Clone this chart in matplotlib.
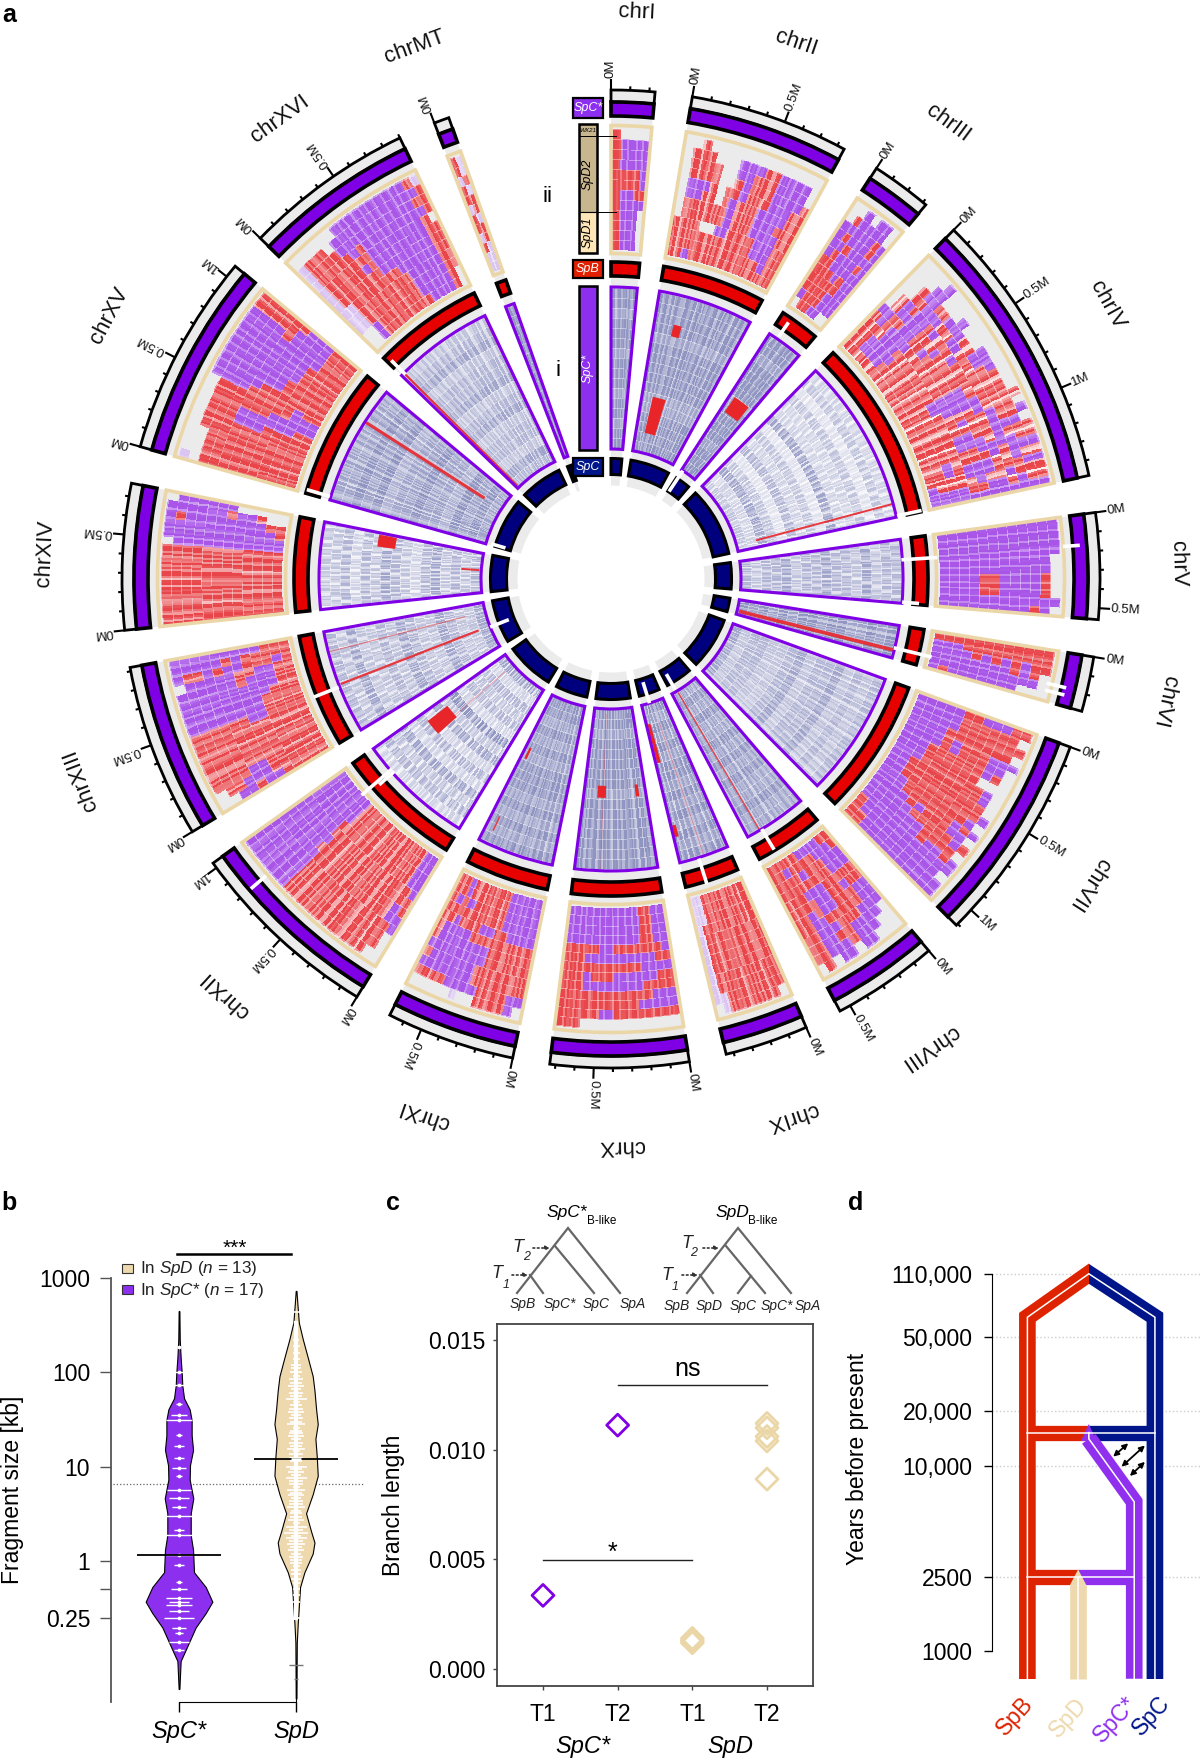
import numpy as np
import matplotlib
matplotlib.use('Agg')
import matplotlib.pyplot as plt
from matplotlib.patches import Rectangle

plt.rcParams['font.family'] = ['Liberation Sans', 'DejaVu Sans']
plt.rcParams['mathtext.fontset'] = 'custom'
plt.rcParams['mathtext.rm'] = 'Liberation Sans'
plt.rcParams['mathtext.it'] = 'Liberation Sans:italic'

W, H = 1200, 1760

# colours
PURPLE = '#8000e6'
PURPLE2 = '#8c2fee'
RED = '#e60000'
NAVY = '#00007e'
BEIGE = '#ebd6a8'
GREY = '#ebebeb'

# ---- panel a data ----
chrom_names = ['chrI', 'chrII', 'chrIII', 'chrIV', 'chrV', 'chrVI', 'chrVII', 'chrVIII', 'chrIX',
               'chrX', 'chrXI', 'chrXII', 'chrXIII', 'chrXIV', 'chrXV', 'chrXVI', 'chrMT']
chrom_mb = [0.23, 0.84, 0.32, 1.48, 0.56, 0.29, 1.11, 0.56, 0.44, 0.73, 0.68, 1.03, 0.92, 0.77, 1.07, 0.90, 0.08]
deg_per_mb = 22.5
gap_deg = 4.4

def flip(rows):
    return [row[::-1] for row in rows[::-1]]

mosaic_I = ['r....', 'rpppp', 'rpppp', 'rpppp', 'rrrrp', 'rrrrp', 'rpprr', 'rpppp', 'rppp.', 'rppp.', 'rppp.', 'rppp.']
mosaic_II = ['..r..............', '.rrr...ppprrpppp.', '.rrrr..pprrrpppp.', '.rrrr..rprrrppppr',
             '.pppr.rrprrrppprr', '.pprr.rprrrpppprr', '.rrrrrrprrrppprrr', '.rrrrrrprrrpppprr',
             'rrrr..pprrrrppprr', 'rrrrrrrrrrrrppprr', 'rrrrrrrrrrrrrrprr', 'rrprrrrrrrrrrrrrr']
mosaic_III = ['..p.pp.', '.rpppp.', 'ppppprp', 'prppprp', 'pprpppp', 'prppprp', 'rrppppp', 'rrrprpp',
              'rrrrrpp', 'rrrrppp', 'prrrppp', '.rrpp..']
mosaic_IV = ['....p.............r.p.rrprprrp', '...pp...p...ppprrrrrrprrprprrp', '..rpprrppprrpprrrrrrrprppprrpp',
             '..rrppprrpprrrrrrrrppppprrrprp', '.rprpprprrrprrrrrpprrrrpprrrpp', '.rpppprrrprrrrrppprrrrpprpprpp',
             'pprrpprrprrrrrrppprprpprrppprp', 'rprpppprrrrrrrrppprrrpprrpprrp', 'rrrppprrrrrrrrrpprrrrrrrrrrrpp',
             'rrppppprrrrrrrrrrrrrrrrrpprrpp', 'rrpppprrrrrrrrrrrrrrrrrrrrrrpp', 'rrrrrrrrrrrrrrrrrrrrrrrrrrrppp']
mosaic_V = ['pppp.....p.', 'pppppprrrpp', 'ppppppppppr', 'ppppppppppp', 'ppppppppppp', 'ppppppppppp',
            'pppppprrrpp', 'pppppprrrpp', 'ppppppppppp', 'ppppppppppp', 'ppppppppppp', 'ppppppppppp']
mosaic_VI = ['rrr...', 'rrrrp.', 'rrppp.', 'rrrrpp', 'rrpppp', 'rrrppp', 'rrpppp', 'rrrppp', 'rrpppp', 'rppppp',
             'rppppr', 'rppppp']
mosaic_VII = ['r.r.p......p.p.r.pp.pp', 'rrrrppr.pprrprpprrpppp', 'prrrppp.rrrrrpprrppppp', 'prrrrrrrrrrrrrrrrppppp',
              'prrrrrrrrrrrrrrrrrpppp', 'rrrrrrrrrrrrrrrrpppppp', 'rrrrpprrrrrrrrprpppppp', 'ppprrrrrrrrrrrrppppppp',
              'pppppprrrrrrrrpppppppp', 'ppppppppprrrpppppppppp', 'pppppppppppppppppppprr', 'pppppppppppppppppprrrr']
mosaic_VIII = ['...pp.pp.r.', '..ppprppprr', '.pppprrpprr', 'ppprrrppprr', 'pprrrrrpprr', 'pprrrpprprr',
               'rrprrpprrrr', 'rrrrrppprrr', 'ppprrrrrrrr', 'ppprrrprrrr', 'rppprrrrprr', 'rrpppprrrrr']
mosaic_IX = flip(['qqrrrrrrrr', 'qqrrrrrrrr', 'qqrrrrrrrr', 'qrrrrrrrrr', 'qrrrrrrrrr', 'qrrrrrrrrr', 'qrrrrrrrrr',
                  'qrrrrrrrrr', 'qrrrrrrrrr', 'qrrrrrrrrr', 'qqrrrrrrrr', '.qrrrrrrr.'])
mosaic_X = flip(['ppppppppppprrpp', 'ppppppppppprrpp', 'ppppppppppprrpp', 'ppppppppppprrpp', 'rrrrrpprrrrrrrp',
                 'rrrpppppppppprr', 'rrrrrrrrrrrpppp', 'rrrprrrpppppprr', 'rrrpppppppprrrr', 'rrrrrrrrrrrrppp',
                 'rrrrrrrrrrppppp', 'rrrrrpprrrrrrrr', 'rrr............'])
mosaic_XI = flip(['rrprrrrrrppppp', 'rrprrrrrrppppp', 'rprprrrrrppppp', 'rrrrrrrrrppppp', 'rrprrrpprrpppp',
                  'rpppprrrrrrrrr', 'rppppppprrrrrr', 'pppppppprrrrrr', 'rpppppprrrrrrr', 'ppppppprrrrrrr',
                  'rrrrpppprrrrpp', '.....q..rrrrp.'])
mosaic_XII = ['..rrrrrrrrrrrrppppppp', '.rrrrrrrrrrrrrppppppp', '.rrrrrrrrrrrrrppppppp', 'prrrrrrrrrrrrrppppppp',
              'pprrrrrrrrrrrrppppppp', 'rprrrrrrrrrrrrrpppppp', 'rrrrrrrrrrrrrrppppppp', 'prrrrrrrrrrrrrrpppppp',
              'pprrrrrrrrrrrrrpppppp', 'pprrrrrrrrrrrrppppppp', 'pprrrrrrrrrrrrppppppp', 'pprrrrrrrrrrrrppppppp']
mosaic_XIII = ['..rrrrrrrppppp.ppp', '.rrrrrrrrpppppprpp', 'prrrrrrrrpppppprpp', 'pprrrrrrrppppppppp',
               'rpprrrrrrpppppprpp', 'ppprrrrrrppppppprp', 'prrrrrrrppppprrppp', 'rrrrrrrrpppppprrrp',
               'rrrrrrrrrrrpppprrp', 'rrrrrrrrrrrrppprrr', 'rrrrrrrrrrrrrrrprr', 'rrrrrrrrrrrrrrrrrr']
mosaic_XIV = ['rrrrrrrrr.pppp.', 'rrrrrrrrrppprpp', 'rrrrrrrrrpppppp', 'rrrrrrrrrpppppp', 'rrrrrrrrrpppppp',
              'rrrrrrrrrpppppp', 'rrrrrrrrrpppprp', 'rrrrrrrrrppppp.', 'rrrrrrrrrppppp.', 'rrrrrrrrrppppr.',
              'rrrrrrrrrpppr..', 'rrrrrrrrrpprr..']
mosaic_XV = ['q.........ppppppppprr', '....rrrrrrppppppppprr', 'rrrrrrrrrrppppppppprr', 'rrrrrrrrrrppppppppprr',
             'rrrrrrpprrrppppppprrr', 'rrrrrrpprrrrppppppppr', 'rrrrrrpprrrrppppppppp', 'rrrrrrrpprrrrrppppppp',
             'rrrrrrrpprrrrrrrrpppp', 'rrrrrrrpppprrrrrrrrrr', 'rrrrrrrrpprrrrrrrrrrr', 'rrrrrrrrpprrrrrrrrrrr']
mosaic_XVI = ['......pppppppppprq', 'qrrr.ppppppppppppr', 'qrrrrppppppppppprr', 'qrrrrrprpppppppppr',
              'qrrrrrrrppppppppr.', 'qrrrrrprpppppppprr', 'qrrrrrrrpppppppprr', 'qqrrrrrrrrpppppprr',
              'qqrrrrrrrrrppppprr', 'qqrrrrrrrrrppppprr', '..prrrrrrrrpppppr.', '..prrrrrrrrrppppr.']
mosaic_MT = ['rq', 'rq', 'qr', 'rq', 'rr', 'qr', 'rq', 'rr', 'qr', 'rq', 'qq', 'qq']
mosaics = [mosaic_I, mosaic_II, mosaic_III, mosaic_IV, mosaic_V, mosaic_VI, mosaic_VII, mosaic_VIII, mosaic_IX,
           mosaic_X, mosaic_XI, mosaic_XII, mosaic_XIII, mosaic_XIV, mosaic_XV, mosaic_XVI, mosaic_MT]
mosaic_stripe = [0.15, 0.6, 0.15, 1.0, 0.2, 0.2, 0.3, 0.4, 0.5, 0.2, 0.55, 0.7, 0.65, 0.6, 0.4, 0.5, 0.4]

# panel i, darkness of each strain row (outer first) and how washed out the chromosome is
panel_i_rows = ['7767776777677677', '7777677777667777', '7767777677776777', '3424336243524634',
                '5546455655465545', '7676677677676767', '5454655465445546', '6676676767667676',
                '7676767677676767', '7777777677777677', '7676767776767677', '3546353647354536',
                '5464454654465446', '4453546543564545', '6676756676657676', '4564556456455465', '7777777777777777']
panel_i_contrast = [0.25, 0.45, 0.3, 1.0, 0.8, 0.5, 0.7, 0.6, 0.55, 0.4, 0.45, 1.0, 0.85, 0.95, 0.6, 0.7, 0.2]
grain = [1, 1, .85, .3, .2, .9, 1, 1, .7, .55, 1, 1, .95, .15, .8, 1, .6, .6, 1, .9, 1, .35, .25, .7, 1, 1, .8, 1,
         .45, 1, .95, .2, .5, 1, 1, .75, .9, .4, 1, 1, .65, .3, 1, .85, 1, 1, .55, .15, .9, 1, .7, 1, .4]

# red introgression blocks in panel i
block_chr = [1, 1, 2, 9, 9, 8, 8, 10, 11, 13]
block_mb0 = [.19, .15, .06, .47, .08, .37, .39, .60, .75, .62]
block_mb1 = [.27, .33, .26, .57, .12, .42, .43, .63, .93, .75]
block_r0 = [250, 150, 202, 207, 207, 150, 254, 187, 207, 218]
block_r1 = [262, 187, 220, 219, 219, 190, 266, 199, 232, 236]

# thin red lines in panel i
line_chr = [14, 12, 12, 15, 15, 3, 5, 7, 8, 9, 11, 13, 10]
line_mb = [.75, .44, .74, .03, .89, 1.36, .22, .44, .22, .50, .78, .44, .60]
line_r0 = [150, 142, 150, 132, 135, 150, 132, 132, 150, 135, 140, 132, 262]
line_r1 = [291, 290, 291, 292, 292, 291, 291, 292, 290, 290, 230, 150, 278]
line_w = [2.2, 1.6, 0.8, 1.6, 0.8, 1.4, 2.6, 1.0, 0.6, 0.6, 0.6, 1.4, 1.2]
line_a = [.9, .9, .5, .9, .7, .9, .9, .8, .4, .3, .4, .9, .8]

# short white gaps across the bands
gap_chr = [4, 4, 4, 5, 5, 5, 2, 2, 3, 8, 8, 7, 7, 11, 11, 11, 12, 12, 14, 14, 15]
gap_mb = [.165, .18, .55, .19, .23, .20, .08, .03, 1.47, .27, .28, .42, .46, .79, .76, .80, .42, .42, .03, .03, .03]
gap_r0 = [453, 291, 292, 448, 448, 291, 295, 105, 293, 293, 108, 292, 110, 290, 290, 455, 293, 110, 293, 110, 290]
gap_r1 = [470, 327, 309, 468, 468, 330, 312, 130, 318, 320, 130, 316, 128, 330, 310, 475, 320, 130, 317, 125, 310]

# ---- panel b data ----
spc_kb = [444, 225, 143, 100, 73, 53, 40.5, 31, 21.5, 15, 10.4, 7.3, 4.6, 3.2, 1.88, 1.31, .76, .53, .37, .28, .197, .125, .087, .044]
spc_w = [.003, .006, .014, .023, .028, .043, .091, .108, .108, .12, .094, .091, .122, .1, .1, .12, .128, .228, .285, .228, .142, .071, .014, .003]
spd_kb = [729, 338, 225, 143, 91, 64, 40.5, 28.3, 19.7, 12.6, 8, 5.1, 3.2, 2.06, 1.57, 1.2, .76, .53, .216, .137, .035]
spd_w = [.003, .023, .057, .1, .142, .157, .171, .185, .165, .177, .185, .142, .085, .128, .157, .142, .071, .034, .014, .006, .003]
spc_frag = [185, 102, 74, 46, 35, 31, 21.5, 16.7, 12.5, 9.7, 8, 5.6, 4.6, 3.7, 3, 2.15, 1.88, 1.15, .91, .6, .51, .41, .37, .34, .295, .247, .197, .172, .137, .115]
spc_frag_w = [.014, .043, .057, .028, .071, .108, .028, .043, .043, .057, .028, .1, .085, .057, .108, .043, .108, .114, .043, .028, .071, .114, .085, .114, .085, .128, .057, .034, .085, .043]
spd_frag = [440, 300, 220, 160, 120, 100, 85, 72, 60, 52, 45, 38, 33, 28, 24, 21, 18, 15.5, 13.5, 11.5, 10, 8.8, 7.6, 6.6, 5.7, 5, 4.3, 3.7, 3.2, 2.7, 2.3, 2, 1.75, 1.5, 1.3, 1.1, .95, .8, .65, .5, .37, .25]
spd_frag_w = [.03, .02, .025, .03, .04, .05, .06, .07, .06, .09, .05, .07, .06, .08, .05, .07, .06, .08, .06, .05, .09, .07, .09, .06, .08, .07, .06, .08, .05, .07, .09, .1, .09, .08, .07, .06, .05, .04, .04, .03, .03, .03]
spd_frag2 = [250, 190, 140, 110, 92, 78, 66, 56, 48, 41, 35, 30, 26, 22.5, 19.5, 16.5, 14.5, 12.5, 9.4, 8.2, 7.1, 6.1, 5.3, 4.6, 4, 3.4, 2.95, 2.5, 2.15, 1.85, 1.62, 1.4, 1.2, 1.02, .88, .72, .58, .44, .31]
spd_frag2_w = [.02, .03, .03, .04, .03, .05, .04, .05, .03, .06, .04, .05, .03, .06, .04, .05, .03, .06, .05, .04, .06, .03, .05, .04, .06, .04, .05, .03, .06, .04, .06, .05, .04, .05, .03, .04, .03, .03, .02]
median_kb = [1.15, 12.2]
threshold_kb = 6.5
b_ticks = [1000, 100, 10, 1, 0.5, 0.25]
b_labels = ['1000', '100', '10', '1', '', '0.25']

# ---- panel c data ----
c_x = [1, 2, 3, 3, 3, 4, 4, 4, 4, 4]
c_y = [.00336, .01112, .0012, .0013, .0014, .0112, .0110, .0106, .0104, .00866]
c_col = [PURPLE, PURPLE, BEIGE, BEIGE, BEIGE, BEIGE, BEIGE, BEIGE, BEIGE, BEIGE]
c_ticks = [0, .005, .010, .015]

# ---- panel d data ----
years_ticks = [110000, 50000, 20000, 10000, 2500, 1000]
years_labels = ['110,000', '50,000', '20,000', '10,000', '2500', '1000']
t_apex, t_shoulder, t_cross, t_bend, t_mix, t_end = 110000, 64000, 15200, 6410, 2500, 707
x_spb, x_spd, x_spcs, x_spc, x_mid, x_fork = 593, 745, 913, 975, 777, 777

fig = plt.figure(figsize=(W / 100, H / 100), dpi=100)

# ---- panel a: circular plot, radius in image pixels ----
CX, CY, RMAX = 611, 579, 620
ax = fig.add_axes([(CX - RMAX) / W, 1 - (CY + RMAX) / H, 2 * RMAX / W, 2 * RMAX / H], projection='polar')
ax.set_theta_zero_location('N')
ax.set_theta_direction(-1)
ax.set_xlim(0, 2 * np.pi)
ax.set_ylim(0, RMAX)
ax.autoscale(False)
ax.set_axis_off()

WHITE = np.array([1.0, 1.0, 1.0])
BG = np.array(matplotlib.colors.to_rgb(GREY))
SLATE = np.array([112, 118, 175]) / 255
mosaic_col = {'.': BG,
              'p': np.array([168, 85, 232]) / 255,
              'r': np.array([232, 70, 74]) / 255,
              'q': np.array([218, 196, 242]) / 255}


def band(t0, t1, r0, r1, face, edge='none', lw=0, z=1):
    ax.bar(np.radians((t0 + t1) / 2), r1 - r0, width=np.radians(t1 - t0), bottom=r0,
           facecolor=face, edgecolor=edge, linewidth=lw, zorder=z)


def paint(t0, t1, r0, r1, rgb, painted, col_marks, gap=0.8):
    # rgb has the outer row first, thin lighter rings separate the rows
    n_rows, n_cols = rgb.shape[:2]
    rgb = rgb.copy()
    for m in col_marks:
        rgb[painted[:, m], m] += (WHITE - rgb[painted[:, m], m]) * 0.3
    h = (r1 - r0) / n_rows
    edges = [r0]
    cells = []
    for i in range(n_rows):
        row = rgb[n_rows - 1 - i]
        mask = painted[n_rows - 1 - i]
        light = row.copy()
        light[mask] += (WHITE - light[mask]) * 0.4
        cells += [row, light]
        edges += [r0 + (i + 1) * h - gap, r0 + (i + 1) * h]
    thetas = np.radians(np.linspace(t0, t1, n_cols + 1))
    ax.pcolormesh(thetas, np.array(edges), np.array(cells), shading='flat', zorder=2)


start = 0.0
for i, name in enumerate(chrom_names):
    mb = chrom_mb[i]
    t0 = start
    t1 = start + mb * deg_per_mb
    start = t1 + gap_deg
    mid = (t0 + t1) / 2

    band(t0, t1, 93.5, 463, GREY, z=1)
    band(t0, t1, 477, 489, GREY, 'black', 2.0, 3)
    band(t0, t1, 463, 477, PURPLE, 'black', 2.6, 3)
    band(t0, t1, 325.5, 453.5, 'none', BEIGE, 2.6, 4)
    band(t0, t1, 303, 317, RED, 'black', 2.6, 3)
    band(t0, t1, 130, 292, 'none', PURPLE, 2.2, 4)
    band(t0, t1, 104.5, 120.5, NAVY, 'black', 2.2, 3)

    # panel i
    fine = max(int((t1 - t0) / 0.3), 3)
    shift = 3 if panel_i_contrast[i] >= 0.8 else 0
    rows_i = np.array([int(c) / 9 for c in panel_i_rows[i]])
    dark = np.zeros((len(rows_i), fine))
    for k in range(len(rows_i)):
        for j in range(fine):
            g = grain[(j + 5 * i + shift * k) % len(grain)]
            dark[k, j] = rows_i[k] * (1 - panel_i_contrast[i] * (1 - g))
    rgb = WHITE + (SLATE - WHITE) * dark[..., None]
    marks = np.unique((np.arange(0, mb, 0.05) / mb * fine).astype(int))[1:]
    paint(t0, t1, 131, 291, rgb, np.ones(rgb.shape[:2], bool), marks)

    # panel ii
    rows_ii = mosaics[i]
    n_cols = max(len(r) for r in rows_ii)
    idx = (np.arange(fine) * n_cols / fine).astype(int)
    rgb = np.zeros((len(rows_ii), fine, 3))
    painted = np.zeros((len(rows_ii), fine), bool)
    for k, row in enumerate(rows_ii):
        row = row.ljust(n_cols, '.')
        for j in range(fine):
            c = row[idx[j]]
            base = mosaic_col[c]
            s = mosaic_stripe[i] * (1 - grain[(j + 5 * i + 11 * (k // 4)) % len(grain)])
            if c == 'p':
                s = s * 0.3
            if c == '.':
                s = 0
            rgb[k, j] = base + (WHITE - base) * s
            painted[k, j] = c != '.'
    marks = np.where(np.diff(idx) > 0)[0] + 1
    margin = min(0.2, (t1 - t0) * 0.05)
    paint(t0 + margin, t1 - margin, 329, 450, rgb, painted, marks)

    # axis ticks and labels
    for tick in np.arange(0, mb + 1e-6, 0.1):
        th = np.radians(t0 + tick * deg_per_mb)
        major = abs(tick / 0.5 - round(tick / 0.5)) < 1e-6
        ax.plot([th, th], [489, 500 if major else 493], color='black', lw=1.5, solid_capstyle='butt', zorder=3)
        if major:
            ang = t0 + tick * deg_per_mb
            lab = '%gM' % round(tick, 1)
            ax.text(th, 501, lab, rotation=(90 - ang) % 360, rotation_mode='anchor', ha='left', va='center',
                    fontsize=9.5, color='#111111')
    ax.text(np.radians(mid), 567, name, rotation=(-mid) % 360, rotation_mode='anchor', ha='center', va='center',
            fontsize=16, color='#111111')

chrom_t0 = np.cumsum([0] + [m * deg_per_mb + gap_deg for m in chrom_mb[:-1]])

for c, m0, m1, r0, r1 in zip(block_chr, block_mb0, block_mb1, block_r0, block_r1):
    band(chrom_t0[c] + m0 * deg_per_mb, chrom_t0[c] + m1 * deg_per_mb, r0, r1, '#e8262a', z=3)
for c, m, r0, r1, w, a in zip(line_chr, line_mb, line_r0, line_r1, line_w, line_a):
    th = np.radians(chrom_t0[c] + m * deg_per_mb)
    ax.plot([th, th], [r0, r1], color='#e8262a', lw=w, alpha=a, solid_capstyle='butt', zorder=3)
for c, m, r0, r1 in zip(gap_chr, gap_mb, gap_r0, gap_r1):
    th = np.radians(chrom_t0[c] + m * deg_per_mb)
    ax.plot([th, th], [r0, r1], color='white', lw=2.6, solid_capstyle='butt', zorder=6)

# ---- panel b ----
axb = fig.add_axes([111 / W, 1 - 1702 / H, (364 - 111) / W, (1702 - 1278) / H])
axb.set_yscale('log')
axb.set_xlim(0.419, 2.58)
axb.set_ylim(0.032, 1000)
axb.patch.set_visible(False)
axb.axhline(threshold_kb, color='#666666', lw=0.9, ls=':', zorder=0, xmin=0.008)
axb.plot([1, 1], [.044, 444], color='black', lw=0.8, zorder=1)
axb.plot([2, 2], [.032, 729], color='black', lw=0.8, zorder=1)
axb.fill_betweenx(spc_kb, 1 - np.array(spc_w), 1 + np.array(spc_w), facecolor=PURPLE2, edgecolor='black', lw=0.8, zorder=2)
axb.fill_betweenx(spd_kb, 2 - np.array(spd_w), 2 + np.array(spd_w), facecolor='#eed9ae', edgecolor='black', lw=0.8, zorder=2)
axb.hlines(spc_frag, 1 - np.array(spc_frag_w), 1 + np.array(spc_frag_w), color='white', lw=1.0, zorder=3)
axb.scatter([1] * len(spc_frag), spc_frag, s=7, color='white', lw=0, zorder=3)
axb.hlines(spd_frag, 2 - np.array(spd_frag_w), 2 + np.array(spd_frag_w), color='white', lw=1.2, zorder=3)
axb.hlines(spd_frag2, 2 - np.array(spd_frag2_w), 2 + np.array(spd_frag2_w), color='white', lw=1.2, zorder=3)
axb.plot([2, 2], [.25, 330], color='white', lw=3, zorder=3)
axb.hlines([.078, .056], [1.94, 1.98], [2.06, 2.02], color='#777777', lw=1.0, zorder=3)
axb.hlines(median_kb, [0.644, 1.644], [1.356, 2.356], color='black', lw=1.3, zorder=4)
axb.hlines(median_kb[1], 1.96, 2.04, color='white', lw=1.8, zorder=5)
axb.set_yticks(b_ticks)
axb.set_yticklabels(b_labels, fontsize=16.5)
axb.minorticks_off()
axb.tick_params(axis='y', length=8, width=1, color='#555555', pad=7)
axb.set_xticks([1, 2])
axb.set_xticklabels(['SpC*', 'SpD'], fontsize=17, style='italic')
axb.tick_params(axis='x', length=7, width=1, pad=6)
for s in ['top', 'right']:
    axb.spines[s].set_visible(False)
axb.spines['left'].set_color('#555555')
axb.spines['left'].set_linewidth(1.3)
axb.spines['bottom'].set_bounds(1, 2)
axb.set_ylabel('Fragment size [kb]', fontsize=16.5)
axb.yaxis.set_label_coords(-0.345, 0.5)

# ---- panel c ----
axc = fig.add_axes([497 / W, 1 - 1686 / H, (813 - 497) / W, (1686 - 1324) / H])
axc.set_xlim(0.384, 4.616)
axc.set_ylim(-0.00077, 0.01573)
axc.scatter(c_x, c_y, marker='D', s=125, facecolor='none', edgecolor=c_col, lw=2.0, zorder=3)
axc.plot([2, 4], [.01296, .01296], color='#222222', lw=1)
axc.plot([1, 3], [.00496, .00496], color='#222222', lw=1)
axc.text(2.93, .0137, 'ns', fontsize=18, ha='center', va='center')
axc.text(1.93, .0053, '*', fontsize=18, ha='center', va='center')
axc.set_yticks(c_ticks)
axc.set_yticklabels(['0.000', '0.005', '0.010', '0.015'], fontsize=16.5)
axc.set_xticks([1, 2, 3, 4])
axc.set_xticklabels(['T1', 'T2', 'T1', 'T2'], fontsize=16.5)
axc.tick_params(axis='both', length=3, width=1, color='#444444')
axc.tick_params(axis='x', pad=9)
axc.tick_params(axis='y', pad=5)
for s in axc.spines.values():
    s.set_color('#444444')
    s.set_linewidth(1.3)
axc.set_ylabel('Branch length', fontsize=16.5)
axc.yaxis.set_label_coords(-0.29, 0.5)

# ---- panel d ----
axd = fig.add_axes([992 / W, 1 - 1680 / H, (1200 - 992) / W, (1680 - 1255) / H])
axd.set_yscale('log')
axd.set_xlim(487, 1110)
axd.set_ylim(696, 139000)
axd.patch.set_visible(False)
DRED, DNAVY, DPURPLE, DBEIGE = '#de2300', '#00158a', '#9030ee', '#eed9ae'
for y in years_ticks[:-1]:
    axd.plot([487, 1110], [y, y], color='#cccccc', lw=1, ls=':', zorder=0)

lw_band = 12.0
clip_left = Rectangle((487, t_end), x_mid - 487, 139000, transform=axd.transData)
clip_right = Rectangle((x_mid, t_end), 1110 - x_mid, 139000, transform=axd.transData)
l1, = axd.plot([x_spb, x_spb, x_mid], [t_end, t_shoulder, t_apex], color=DRED, lw=lw_band,
               solid_joinstyle='miter', solid_capstyle='projecting', zorder=2)
l1.set_clip_path(clip_left)
l2, = axd.plot([x_spc, x_spc, x_mid], [t_end, t_shoulder, t_apex], color=DNAVY, lw=lw_band,
               solid_joinstyle='miter', solid_capstyle='projecting', zorder=2)
l2.set_clip_path(clip_right)
axd.plot([x_spb, x_mid], [t_cross, t_cross], color=DRED, lw=11, solid_capstyle='butt', zorder=2)
axd.plot([x_mid, x_spc], [t_cross, t_cross], color=DNAVY, lw=11, solid_capstyle='butt', zorder=2)
axd.plot([x_spb, x_spd], [t_mix, t_mix], color=DRED, lw=11, solid_capstyle='butt', zorder=2)
axd.plot([x_spd, x_spcs], [t_mix, t_mix], color=DPURPLE, lw=11, solid_capstyle='butt', zorder=2)
axd.plot([x_mid, x_spcs, x_spcs], [14060, t_bend, t_end], color=DPURPLE, lw=lw_band,
         solid_joinstyle='miter', solid_capstyle='butt', zorder=3)
axd.fill([x_fork, x_fork - 24, x_fork + 23], [16900, 13680, 13680], color=DPURPLE, lw=0, zorder=3)
axd.plot([x_spd, x_spd], [t_end, 2265], color=DBEIGE, lw=lw_band, solid_capstyle='butt', zorder=3)
axd.fill([x_spd, x_spd - 25, x_spd + 25], [2760, 2265, 2265], color=DBEIGE, lw=0, zorder=3)
white = dict(color='white', lw=1.1, zorder=5, solid_joinstyle='miter')
axd.plot([x_spb, x_spb, x_mid, x_spc, x_spc], [t_end, t_shoulder, t_apex, t_shoulder, t_end], **white)
axd.plot([x_spb, x_spc], [t_cross, t_cross], **white)
axd.plot([x_spb, x_spcs], [t_mix, t_mix], **white)
axd.plot([x_mid, x_mid, x_spcs, x_spcs], [t_cross, 14060, t_bend, t_end], **white)
axd.plot([x_spd, x_spd], [t_mix, t_end], **white)
arrow_x0 = [850, 875, 900]
arrow_x1 = [895, 945, 945]
arrow_y0 = [11260, 9940, 8850]
arrow_y1 = [13300, 12940, 10550]
for a, b, c, d in zip(arrow_x0, arrow_x1, arrow_y0, arrow_y1):
    axd.annotate('', xy=(b, d), xytext=(a, c), zorder=6,
                 arrowprops=dict(arrowstyle='<|-|>', color='black', lw=1.3, mutation_scale=8, shrinkA=0, shrinkB=0))
axd.set_yticks(years_ticks)
axd.set_yticklabels(years_labels, fontsize=16.5)
axd.minorticks_off()
axd.tick_params(axis='y', length=6, width=1, pad=8)
axd.set_xticks([])
for s in ['top', 'right', 'bottom']:
    axd.spines[s].set_visible(False)
axd.spines['left'].set_bounds(1000, 110000)
axd.set_ylabel('Years before present', fontsize=16.5)
axd.yaxis.set_label_coords(-0.59, 0.52)

# ---- annotation layer in image pixels ----
ov = fig.add_axes([0, 0, 1, 1])
ov.set_xlim(0, W)
ov.set_ylim(H, 0)
ov.set_axis_off()
ov.patch.set_visible(False)

for letter, x, y in [('a', 9, 15), ('b', 9, 1203), ('c', 393, 1203), ('d', 856, 1203)]:
    ov.text(x, y, letter, fontsize=18, fontweight='bold', ha='center', va='center')

# key next to chrI
for label, y0, y1, col in [('SpC*', 98, 118, PURPLE2), ('SpB', 260, 278, '#e02000'), ('SpC', 458, 476, '#00158a')]:
    ov.add_patch(Rectangle((573, y0), 30, y1 - y0, facecolor=col, edgecolor='black', lw=1.6))
    ov.text(588, (y0 + y1) / 2, label, color='white', fontsize=9, style='italic', ha='center', va='center')
ov.add_patch(Rectangle((579, 286), 18, 164, facecolor=PURPLE2, edgecolor='black', lw=1.8))
ov.text(588, 368, 'SpC*', color='white', fontsize=9, style='italic', rotation=90, ha='center', va='center')
ov.add_patch(Rectangle((579, 124), 18, 88, facecolor='#c8b68f', edgecolor='black', lw=0.8))
ov.add_patch(Rectangle((579, 212), 18, 41, facecolor='#ffe6b8', edgecolor='black', lw=0.8))
ov.add_patch(Rectangle((579, 124), 18, 129, facecolor='none', edgecolor='black', lw=1.8))
ov.plot([579, 616], [136, 136], color='black', lw=0.7)
ov.plot([579, 616], [212, 212], color='black', lw=0.7)
ov.text(588, 130, 'WX21', fontsize=4.5, style='italic', ha='center', va='center')
ov.text(588, 174, 'SpD2', fontsize=9, style='italic', rotation=90, ha='center', va='center')
ov.text(588, 232, 'SpD1', fontsize=9, style='italic', rotation=90, ha='center', va='center')
ov.text(547, 197, 'ii', fontsize=16, ha='center', va='center')
ov.text(558, 371, 'i', fontsize=16, ha='center', va='center')

# panel b legend and significance bar
for y, col, txt in [(1269, '#eed9ae', r'In $\mathit{SpD}$ ($\mathit{n}$ = 13)'),
                    (1290, PURPLE2, r'In $\mathit{SpC}$* ($\mathit{n}$ = 17)')]:
    ov.add_patch(Rectangle((122, y - 4.5), 11, 9, facecolor=col, edgecolor='#333333', lw=0.8))
    ov.text(140, y, txt, fontsize=12.3, ha='left', va='center', color='#222222')
ov.plot([177, 291], [1254, 1254], color='black', lw=1.8)
ov.text(235, 1248, '***', fontsize=15, ha='center', va='center')

# panel c group labels and trees
ov.text(583, 1747, 'SpC*', fontsize=17, style='italic', ha='center', va='center')
ov.text(730, 1747, 'SpD', fontsize=17, style='italic', ha='center', va='center')
tree_col = '#666666'
tree_lines = [
    ([517, 568, 620], [1293, 1228, 1293]), ([555, 594], [1246, 1293]), ([530, 543], [1275, 1293]),
    ([687, 738, 791], [1293, 1228, 1293]), ([726, 765], [1246, 1293]), ([700, 713], [1275, 1293]),
    ([751, 738], [1276, 1293])]
for xs, ys in tree_lines:
    ov.plot(xs, ys, color=tree_col, lw=1.6, solid_joinstyle='miter')
for label, x, y in [('SpB', 523, 1304), ('SpC*', 560, 1304), ('SpC', 596, 1304), ('SpA', 633, 1304),
                    ('SpB', 677, 1306), ('SpD', 709, 1306), ('SpC', 743, 1306), ('SpC*', 777, 1306), ('SpA', 808, 1306)]:
    ov.text(x, y, label, fontsize=10, style='italic', ha='center', va='center', color='#222222')
ov.text(567, 1213, 'SpC*', fontsize=12.5, style='italic', ha='center', va='center')
ov.text(587, 1221, 'B-like', fontsize=8.5, ha='left', va='center')
ov.text(732, 1213, 'SpD', fontsize=12.5, style='italic', ha='center', va='center')
ov.text(748, 1221, 'B-like', fontsize=8.5, ha='left', va='center')
for label, x, y, size in [('T', 518, 1247, 13), ('2', 527, 1257, 9), ('T', 497, 1274, 13), ('1', 506, 1285, 9),
                          ('T', 687, 1244, 13), ('2', 694, 1253, 9), ('T', 667, 1276, 13), ('1', 675, 1287, 9)]:
    ov.text(x, y, label, fontsize=size, style='italic', ha='center', va='center', color='#222222')
for x0, x1, y in [(533, 550, 1248), (512, 528, 1275), (703, 719, 1248), (682, 698, 1275)]:
    ov.annotate('', xy=(x1, y), xytext=(x0, y),
                arrowprops=dict(arrowstyle='-|>', ls=':', color='#333333', lw=1.2, mutation_scale=6, shrinkA=0, shrinkB=0))

# panel d lineage labels
for label, x, y, col in [('SpB', 1015, 1716, DRED), ('SpD', 1068, 1718, DBEIGE),
                         ('SpC*', 1115, 1720, DPURPLE), ('SpC', 1151, 1716, DNAVY)]:
    ov.text(x, y, label, fontsize=16.5, color=col, rotation=48, ha='center', va='center')

fig.savefig('out.png', dpi=100)
